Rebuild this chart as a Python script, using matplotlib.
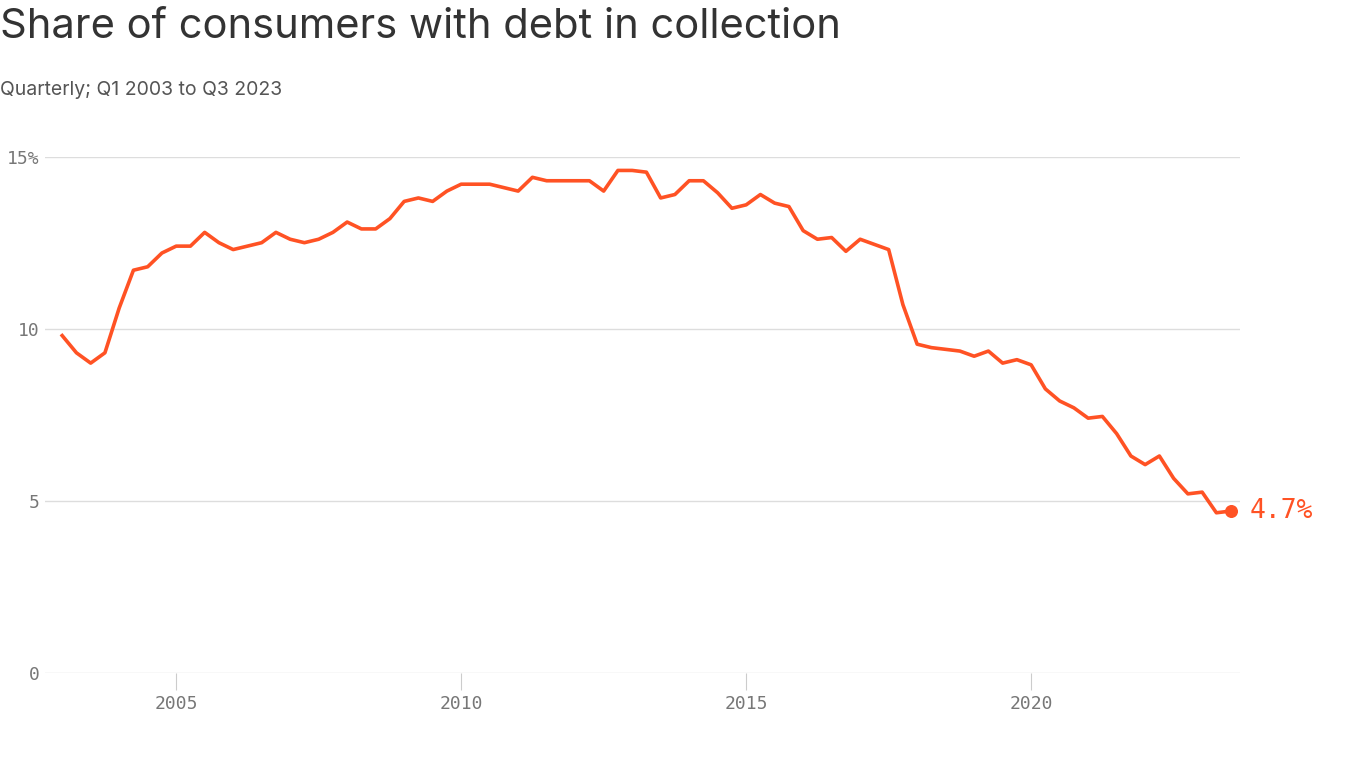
import numpy as np
import matplotlib.pyplot as plt

# quarterly share of consumers with debt in collection, Q1 2003 .. Q3 2023
share = [
    9.8, 9.3, 9.0, 9.3,
    10.6, 11.7, 11.8, 12.2,
    12.4, 12.4, 12.8, 12.5,
    12.3, 12.4, 12.5, 12.8,
    12.6, 12.5, 12.6, 12.8,
    13.1, 12.9, 12.9, 13.2,
    13.7, 13.8, 13.7, 14.0,
    14.2, 14.2, 14.2, 14.1,
    14.0, 14.4, 14.3, 14.3,
    14.3, 14.3, 14.0, 14.6,
    14.6, 14.55, 13.8, 13.9,
    14.3, 14.3, 13.95, 13.5,
    13.6, 13.9, 13.65, 13.55,
    12.85, 12.6, 12.65, 12.25,
    12.6, 12.45, 12.3, 10.7,
    9.55, 9.45, 9.4, 9.35,
    9.2, 9.35, 9.0, 9.1,
    8.95, 8.25, 7.9, 7.7,
    7.4, 7.45, 6.95, 6.3,
    6.05, 6.3, 5.65, 5.2,
    5.25, 4.65, 4.7,
]
years = 2003 + np.arange(len(share)) / 4
y_ticks = [0, 5, 10, 15]
y_labels = ["0", "5", "10", "15%"]
x_ticks = [2005, 2010, 2015, 2020]

orange = "#ff5224"
grey = "#777777"
mono = "DejaVu Sans Mono"

fig = plt.figure(figsize=(13.66, 7.68), dpi=100)
ax = fig.add_axes([0.033, 0.124, 0.875, 0.672])

ax.plot(years, share, color=orange, lw=2.6, clip_on=False, solid_joinstyle="round")
ax.scatter([years[-1]], [share[-1]], s=70, color=orange, zorder=5, clip_on=False)
ax.text(years[-1] + 0.33, share[-1], f"{share[-1]}%", color=orange, fontsize=19,
        family=mono, va="center", ha="left")

ax.set_xlim(2002.7, 2023.67)
ax.set_ylim(0, 15)
ax.set_yticks(y_ticks)
ax.set_yticklabels(y_labels)
ax.set_xticks(x_ticks)
ax.grid(axis="y", color="#dddddd", lw=1)
ax.set_axisbelow(True)
for s in ax.spines.values():
    s.set_visible(False)
ax.tick_params(axis="y", length=0, pad=4, labelcolor=grey, labelsize=13)
ax.tick_params(axis="x", length=12, color="#cccccc", pad=4, labelcolor=grey, labelsize=13)
for lab in ax.get_xticklabels() + ax.get_yticklabels():
    lab.set_family(mono)
ax.spines["bottom"].set_visible(False)

fig.text(0.0, 0.965, "Share of consumers with debt in collection", fontsize=30,
         color="#333333", family="Inter", va="center", ha="left")
fig.text(0.0, 0.883, "Quarterly; Q1 2003 to Q3 2023", fontsize=14,
         color="#555555", family="Inter", va="center", ha="left")

fig.savefig("out.png", dpi=100)
